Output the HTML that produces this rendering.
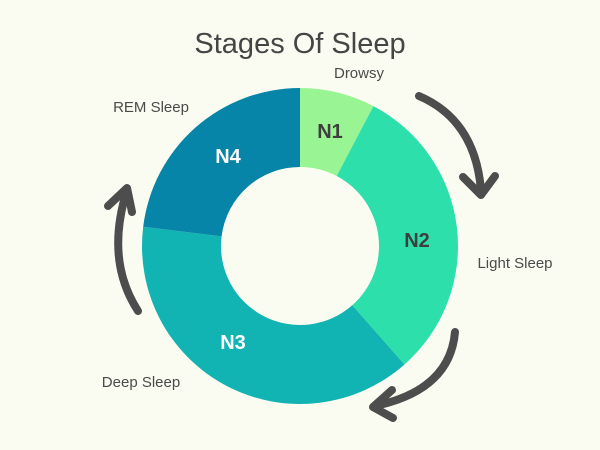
<!DOCTYPE html>
<html><head><style>
html,body{margin:0;padding:0;background:#fbfcf1;}
svg{display:block}
text{font-family:"Liberation Sans",sans-serif;}
</style></head><body>
<svg width="600" height="450" viewBox="0 0 600 450">
<rect width="600" height="450" fill="#fbfcf1"/>
<text x="300" y="53" text-anchor="middle" font-size="29" fill="#454545">Stages Of Sleep</text>
<g id="donut"></g>
<path id="seg1" fill="#99f593"/>
<path id="seg2" fill="#2ddfab"/>
<path id="seg3" fill="#11b3b3"/>
<path id="seg4" fill="#0685a8"/>
<text x="330" y="138" text-anchor="middle" font-size="20" font-weight="bold" fill="#3e3e3e">N1</text>
<text x="417" y="247" text-anchor="middle" font-size="20" font-weight="bold" fill="#3e3e3e">N2</text>
<text x="233" y="349" text-anchor="middle" font-size="20" font-weight="bold" fill="#fff">N3</text>
<text x="228" y="163" text-anchor="middle" font-size="20" font-weight="bold" fill="#fff">N4</text>
<text x="359" y="78" text-anchor="middle" font-size="15" fill="#4a4a4a">Drowsy</text>
<text x="515" y="268" text-anchor="middle" font-size="15" fill="#4a4a4a">Light Sleep</text>
<text x="141" y="387" text-anchor="middle" font-size="15" fill="#4a4a4a">Deep Sleep</text>
<text x="151" y="112" text-anchor="middle" font-size="15" fill="#4a4a4a">REM Sleep</text>
<g fill="none" stroke="#4d4d4d" stroke-width="8" stroke-linecap="round" stroke-linejoin="round">
<path d="M419 96 Q475 120 481 190"/>
<path d="M463 177 L481 195 L495 176"/>
<path d="M455 332 Q450 390 375 406"/>
<path d="M392 390 L373 407 L393 418"/>
<path d="M138 311 Q105 260 127 190"/>
<path d="M108 206 L127 188 L132 212"/>
</g>
<script>
function seg(id,a0,a1){var cx=300,cy=246,R=158,r=79;function p(rad,a){a=a*Math.PI/180;return (cx+rad*Math.sin(a)).toFixed(2)+' '+(cy-rad*Math.cos(a)).toFixed(2);}
var l=(a1-a0)>180?1:0;document.getElementById(id).setAttribute('d','M'+p(R,a0)+' A'+R+' '+R+' 0 '+l+' 1 '+p(R,a1)+' L'+p(r,a1)+' A'+r+' '+r+' 0 '+l+' 0 '+p(r,a0)+' Z');}
seg('seg1',0,27.7);seg('seg2',27.7,138.6);seg('seg3',138.6,277);seg('seg4',277,360);
</script>
</svg>
</body></html>
